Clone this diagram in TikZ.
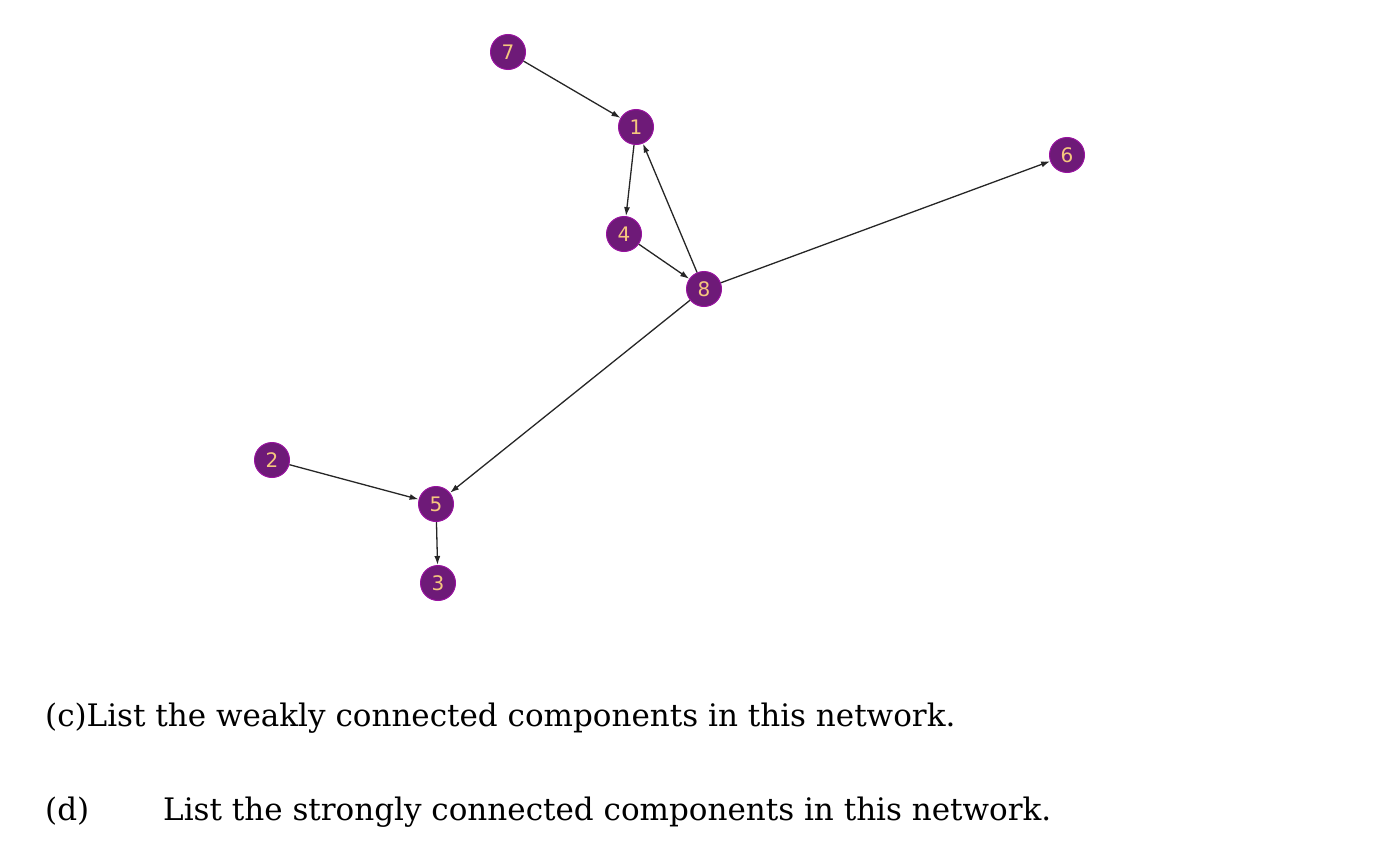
\documentclass[tikz,border=0pt]{standalone}
\usepackage{fontspec}
\setmainfont{DejaVu Serif}
\newfontfamily\nodefont{DejaVu Sans}
\usetikzlibrary{arrows.meta}
\definecolor{nodepurple}{HTML}{6E1A78}
\definecolor{labelyel}{HTML}{F5C77E}
\begin{document}
\begin{tikzpicture}[x=1pt,y=-1pt,
  vert/.style={circle,fill=nodepurple,draw=nodepurple!70!magenta,line width=1pt,minimum size=35pt,inner sep=0pt,text=labelyel,font=\nodefont\fontsize{20}{20}\selectfont},
  edge/.style={-{Latex[length=9pt,width=6pt]},line width=1.3pt,black!85},
  qtext/.style={anchor=base west,inner sep=0pt,font=\fontsize{31}{36}\selectfont}]
\useasboundingbox (0,0) rectangle (1380,864);
\node[vert] (n7) at (508,52) {7};
\node[vert] (n1) at (636,127) {1};
\node[vert] (n6) at (1067,155) {6};
\node[vert] (n4) at (624,234) {4};
\node[vert] (n8) at (704,289) {8};
\node[vert] (n2) at (272,460) {2};
\node[vert] (n5) at (436,504) {5};
\node[vert] (n3) at (438,583) {3};
\draw[edge] (n7) -- (n1);
\draw[edge] (n1) -- (n4);
\draw[edge] (n4) -- (n8);
\draw[edge] (n8) -- (n1);
\draw[edge] (n8) -- (n6);
\draw[edge] (n8) -- (n5);
\draw[edge] (n2) -- (n5);
\draw[edge] (n5) -- (n3);
\node[qtext] (qc) at (45,726) {(c)List the weakly connected components in this network.};
\node[qtext] (qd) at (45,820) {(d)};
\node[qtext] (qd2) at (163,820) {List the strongly connected components in this network.};
\end{tikzpicture}
\end{document}
